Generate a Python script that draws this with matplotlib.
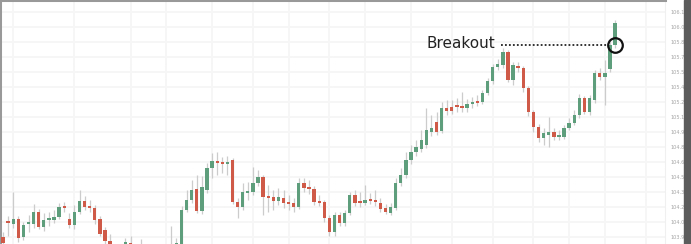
import numpy as np
import matplotlib
matplotlib.use('Agg')
import matplotlib.pyplot as plt
from matplotlib.patches import Rectangle

# OHLC (one candle per bar, left to right)
opens = [103.90, 104.06, 104.03, 104.08, 103.90, 104.03, 104.03, 104.15, 104.00, 104.07,
         104.07, 104.10, 104.21, 104.08, 104.02, 104.15, 104.26, 104.21, 104.19, 104.08,
         103.97, 103.86, 103.75, 103.65, 103.71, 103.84, 103.77, 103.71, 103.75, 103.69,
         103.65, 103.70, 103.67, 103.73, 103.77, 103.79, 104.17, 104.27, 104.38, 104.16,
         104.37, 104.59, 104.66, 104.64, 104.63, 104.67, 104.25, 104.20, 104.34, 104.35,
         104.44, 104.50, 104.30, 104.30, 104.26, 104.29, 104.24, 104.24, 104.20, 104.44,
         104.39, 104.38, 104.25, 104.25, 104.09, 103.95, 104.12, 104.04, 104.14, 104.32,
         104.26, 104.24, 104.27, 104.27, 104.24, 104.19, 104.14, 104.19, 104.44, 104.52,
         104.67, 104.75, 104.78, 104.82, 104.95, 105.05, 104.96, 105.19, 105.20, 105.21,
         105.21, 105.19, 105.23, 105.25, 105.25, 105.34, 105.46, 105.60, 105.62, 105.75,
         105.47, 105.61, 105.59, 105.39, 105.15, 105.00, 104.89, 104.92, 104.95, 104.90,
         104.90, 104.99, 105.04, 105.12, 105.29, 105.15, 105.27, 105.54, 105.50, 105.58,
         105.82]
highs = [103.95, 104.11, 104.35, 104.11, 104.05, 104.12, 104.23, 104.18, 104.14, 104.15,
         104.17, 104.24, 104.25, 104.14, 104.22, 104.37, 104.31, 104.27, 104.22, 104.11,
         104.00, 103.93, 103.79, 103.77, 103.89, 103.91, 103.82, 103.88, 103.81, 103.77,
         103.79, 103.78, 103.81, 104.01, 103.89, 104.21, 104.37, 104.47, 104.52, 104.51,
         104.64, 104.74, 104.75, 104.70, 104.71, 104.69, 104.29, 104.44, 104.45, 104.60,
         104.57, 104.52, 104.42, 104.37, 104.39, 104.37, 104.32, 104.29, 104.49, 104.49,
         104.47, 104.41, 104.32, 104.27, 104.12, 104.15, 104.15, 104.17, 104.35, 104.37,
         104.35, 104.42, 104.34, 104.37, 104.29, 104.23, 104.24, 104.49, 104.59, 104.75,
         104.82, 104.87, 104.97, 105.19, 105.12, 105.15, 105.25, 105.27, 105.27, 105.29,
         105.35, 105.28, 105.30, 105.32, 105.37, 105.49, 105.63, 105.68, 105.79, 105.77,
         105.65, 105.65, 105.61, 105.41, 105.17, 105.03, 104.99, 105.10, 104.99, 104.97,
         105.02, 105.09, 105.17, 105.33, 105.31, 105.32, 105.57, 105.59, 105.67, 105.85,
         106.07]
lows = [103.80, 103.91, 103.99, 103.85, 103.87, 103.95, 103.99, 103.98, 103.96, 104.01,
        104.04, 104.08, 104.15, 103.99, 103.98, 104.13, 104.17, 104.15, 104.03, 103.91,
        103.82, 103.71, 103.61, 103.59, 103.67, 103.73, 103.65, 103.67, 103.63, 103.59,
        103.61, 103.62, 103.65, 103.69, 103.75, 103.77, 104.15, 104.24, 104.14, 104.13,
        104.34, 104.49, 104.52, 104.54, 104.52, 104.23, 104.09, 104.17, 104.27, 104.32,
        104.41, 104.12, 104.15, 104.17, 104.22, 104.19, 104.17, 104.15, 104.18, 104.35,
        104.33, 104.22, 104.21, 104.05, 103.91, 103.91, 104.01, 104.01, 104.12, 104.21,
        104.20, 104.22, 104.23, 104.21, 104.15, 104.13, 104.12, 104.17, 104.41, 104.49,
        104.63, 104.71, 104.75, 104.79, 104.91, 104.92, 104.94, 105.12, 105.13, 105.15,
        105.15, 105.15, 105.19, 105.21, 105.23, 105.32, 105.43, 105.57, 105.59, 105.45,
        105.42, 105.55, 105.35, 105.11, 104.95, 104.85, 104.82, 104.80, 104.87, 104.87,
        104.88, 104.97, 105.02, 105.09, 105.13, 105.12, 105.24, 105.47, 105.22, 105.55,
        105.79]
closes = [103.84, 104.04, 104.08, 103.89, 104.02, 104.05, 104.15, 104.00, 104.07, 104.08,
          104.10, 104.20, 104.19, 104.02, 104.15, 104.26, 104.20, 104.19, 104.07, 103.93,
          103.86, 103.75, 103.65, 103.69, 103.85, 103.77, 103.71, 103.75, 103.69, 103.65,
          103.70, 103.67, 103.73, 103.77, 103.84, 104.17, 104.27, 104.37, 104.16, 104.40,
          104.59, 104.66, 104.64, 104.63, 104.64, 104.25, 104.20, 104.35, 104.35, 104.44,
          104.50, 104.30, 104.29, 104.26, 104.30, 104.24, 104.23, 104.20, 104.44, 104.39,
          104.38, 104.25, 104.24, 104.09, 103.95, 104.12, 104.04, 104.14, 104.32, 104.24,
          104.24, 104.27, 104.26, 104.25, 104.18, 104.15, 104.20, 104.44, 104.52, 104.67,
          104.75, 104.80, 104.87, 104.97, 104.99, 104.95, 105.19, 105.16, 105.16, 105.20,
          105.19, 105.23, 105.25, 105.24, 105.34, 105.46, 105.60, 105.63, 105.75, 105.47,
          105.62, 105.59, 105.39, 105.15, 105.00, 104.89, 104.94, 104.95, 104.90, 104.91,
          104.99, 105.04, 105.12, 105.29, 105.15, 105.29, 105.54, 105.50, 105.54, 105.82,
          106.04]

breakout_level = 105.82
breakout_label = 'Breakout'
price_ticks = [106.15, 106.00, 105.85, 105.70, 105.55, 105.40, 105.25, 105.10, 104.95,
               104.80, 104.65, 104.50, 104.35, 104.20, 104.05, 103.90]
vgrid_idx = [2, 14, 25, 32, 41, 49, 56, 64, 71, 80, 88, 96, 104, 111, 118, 126]

green = '#5e9e7c'
red = '#d05a48'

fig = plt.figure(figsize=(6.91, 2.44), dpi=100)
fig.patch.set_facecolor('white')
ax = fig.add_axes([0, 0, 665/691, 1])

o = np.array(opens)
h = np.array(highs)
l = np.array(lows)
c = np.array(closes)
idx = np.arange(len(o))
up = c >= o
cols = np.where(up, green, red)

for g in vgrid_idx:
    ax.axvline(g, color='#f6f6f6', lw=1.3, zorder=0)
for t in price_ticks:
    ax.axhline(t, color='#f6f6f6', lw=1.3, zorder=0)

ax.vlines(idx, l, h, color='#cccccc', lw=0.9, zorder=2)
body_h = np.maximum(np.abs(c - o), 0.015)
ax.bar(idx, body_h, bottom=np.minimum(o, c), width=0.66, color=cols, zorder=3)

# breakout annotation
last = len(o) - 1
ax.plot([97.6, last - 1.3], [breakout_level, breakout_level], color='#222222',
        lw=1.3, ls=(0, (1, 1.2)), zorder=4)
ax.plot([last], [breakout_level], marker='o', ms=10.5, mfc='none', mec='#111111',
        mew=1.6, zorder=5)
ax.text(96.6, breakout_level + 0.01, breakout_label, ha='right', va='center',
        fontsize=11, color='#222222', family='DejaVu Sans')

ax.set_xlim(-0.59, 129.8)
ax.set_ylim(103.83, 106.27)
ax.set_xticks([])
ax.yaxis.tick_right()
ax.set_yticks(price_ticks)
ax.set_yticklabels(['%.2f' % t for t in price_ticks])
ax.tick_params(axis='y', length=0, pad=4, labelsize=3.6, labelcolor='#a5a5a5')

ax.spines['bottom'].set_visible(False)
ax.spines['right'].set_color('#f0f0f0')
ax.spines['top'].set_color('#999999')
ax.spines['top'].set_linewidth(2.2)
ax.spines['left'].set_color('#999999')
ax.spines['left'].set_linewidth(2.2)

# dark strip at the right edge
fig.patches.append(Rectangle((684/691, 0), 7/691, 1, transform=fig.transFigure,
                             color='#5c5c5c', zorder=10))

fig.savefig('out.png', dpi=100)
